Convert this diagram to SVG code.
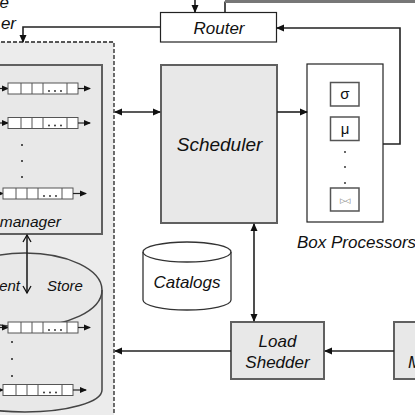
<svg xmlns="http://www.w3.org/2000/svg" width="415" height="415" viewBox="0 0 415 415">
<defs>
<style>
text{font-family:"Liberation Sans",Arial,sans-serif;font-style:italic;fill:#111}
text.sym{font-style:normal}
.box{fill:#e8e8e8;stroke:#606060;stroke-width:2}
.wbox{fill:#fff;stroke:#222;stroke-width:1.2}
.ibox{fill:#fff;stroke:#555;stroke-width:1.5}
.ln{fill:none;stroke:#222;stroke-width:1.6}
.cell{fill:#fff;stroke:#555;stroke-width:1}
.q{fill:none;stroke:#222;stroke-width:1.2}
.dot{fill:#222}
</style>
<marker id="ah" markerWidth="8" markerHeight="8" refX="7" refY="4" orient="auto-start-reverse" markerUnits="userSpaceOnUse"><path d="M0,0.5 L8,4 L0,7.5 Z" fill="#111"/></marker>
<marker id="qh" markerWidth="7" markerHeight="7" refX="6" refY="3.5" orient="auto-start-reverse" markerUnits="userSpaceOnUse"><path d="M0,0.5 L7,3.5 L0,6.5 Z" fill="#111"/></marker>
<marker id="oh" markerWidth="10" markerHeight="10" refX="8" refY="5" orient="auto-start-reverse" markerUnits="userSpaceOnUse"><path d="M1,1 L8,5 L1,9" fill="none" stroke="#111" stroke-width="1.3"/></marker>
<g id="queue">
<rect class="cell" x="0" y="0" width="70" height="11"/>
<line x1="13" y1="0" x2="13" y2="11" stroke="#555"/>
<line x1="24" y1="0" x2="24" y2="11" stroke="#555"/>
<line x1="35" y1="0" x2="35" y2="11" stroke="#555"/>
<line x1="59" y1="0" x2="59" y2="11" stroke="#555"/>
<circle class="dot" cx="41" cy="8" r="0.9"/><circle class="dot" cx="47" cy="8" r="0.9"/><circle class="dot" cx="53" cy="8" r="0.9"/>
</g>
</defs>

<g id="storage-manager">
<rect x="-5" y="42" width="119" height="380" fill="#ececec" stroke="#222" stroke-width="1.3" stroke-dasharray="4,2"/>
<text x="16" y="29" font-size="17" text-anchor="end">er</text>
<text x="9" y="8" font-size="17" text-anchor="end">e</text>
</g>

<g id="queue-manager">
<rect class="box" x="-5" y="65" width="107" height="169" fill="#e6e6e6"/>
<g class="queues">
<path class="q" d="M0,88.5 H8" marker-end="url(#qh)"/>
<use href="#queue" x="8" y="83"/>
<path class="q" d="M78,88.5 H90" marker-end="url(#qh)"/>
<path class="q" d="M0,123 H8" marker-end="url(#qh)"/>
<use href="#queue" x="8" y="117.5"/>
<path class="q" d="M78,123 H90" marker-end="url(#qh)"/>
<circle class="dot" cx="22" cy="145" r="1"/><circle class="dot" cx="22" cy="161" r="1"/><circle class="dot" cx="22" cy="177" r="1"/>
<path class="q" d="M-5,193.5 H3" marker-end="url(#qh)"/>
<use href="#queue" x="3" y="188"/>
<path class="q" d="M73,193.5 H86" marker-end="url(#qh)"/>
</g>
<text x="61" y="227" font-size="15.5" text-anchor="end">manager</text>
</g>

<g id="store">
<path d="M-52,290 A77,37 0 0 1 102,290 V390 A77,22 0 0 1 -52,390 Z" fill="#e8e8e8" stroke="#444" stroke-width="1.5"/>
<path d="M-52,290 A77,37 0 0 0 102,290" fill="none" stroke="#444" stroke-width="1.5"/>
<text x="20" y="291" font-size="15" text-anchor="end">ent</text>
<text x="47" y="291" font-size="15">Store</text>
<path class="q" d="M0,327.5 H8" marker-end="url(#qh)"/>
<use href="#queue" x="8" y="322"/>
<path class="q" d="M78,327.5 H90" marker-end="url(#qh)"/>
<circle class="dot" cx="12" cy="342" r="1"/><circle class="dot" cx="12" cy="359" r="1"/><circle class="dot" cx="12" cy="376" r="1"/>
<path class="q" d="M-5,390 H3" marker-end="url(#qh)"/>
<use href="#queue" x="3" y="384.5"/>
<path class="q" d="M73,390 H86" marker-end="url(#qh)"/>
</g>

<g id="router">
<rect class="wbox" x="160.5" y="12.5" width="116" height="29.5" stroke-width="1.5"/>
<text x="219" y="34" font-size="17" text-anchor="middle">Router</text>
</g>

<g id="scheduler">
<rect class="box" x="161" y="65" width="116" height="158"/>
<text x="219.5" y="151" font-size="19" text-anchor="middle">Scheduler</text>
</g>

<g id="box-processors">
<rect class="wbox" x="307" y="64" width="76" height="158"/>
<rect class="ibox" x="330.5" y="82.5" width="28.5" height="23.5"/>
<text class="sym" x="345" y="99" font-size="15" text-anchor="middle">σ</text>
<rect class="ibox" x="330.5" y="117" width="28.5" height="23.5"/>
<text class="sym" x="345" y="134" font-size="15" text-anchor="middle">μ</text>
<circle class="dot" cx="345" cy="152" r="0.9"/><circle class="dot" cx="345" cy="167" r="0.9"/><circle class="dot" cx="345" cy="183" r="0.9"/>
<rect class="ibox" x="330.5" y="188" width="28.5" height="23"/>
<text class="sym" x="345" y="202.5" font-size="7" text-anchor="middle" style="fill:#555">▷◁</text>
<text x="297" y="248" font-size="17">Box Processors</text>
</g>

<g id="catalogs">
<path d="M143,252 A44,10 0 0 1 231,252 V300 A44,10 0 0 1 143,300 Z" fill="#fff" stroke="#333" stroke-width="1.3"/>
<path d="M143,252 A44,10 0 0 0 231,252" fill="none" stroke="#333" stroke-width="1.3"/>
<text x="187" y="288" font-size="17" text-anchor="middle">Catalogs</text>
</g>

<g id="load-shedder">
<rect class="box" x="231" y="322" width="93" height="57"/>
<text x="277.5" y="347" font-size="17" text-anchor="middle">Load</text>
<text x="277.5" y="368" font-size="17" text-anchor="middle">Shedder</text>
</g>

<g id="monitor">
<rect class="box" x="394" y="322" width="30" height="57"/>
<text x="408" y="368" font-size="17">M</text>
</g>

<g id="connectors">
<path class="ln" d="M160,27 H23 V42" marker-end="url(#ah)"/>
<path class="ln" d="M195,0 V12" marker-end="url(#ah)"/>
<path class="ln" d="M225,12 V1.5"/>
<path d="M225,1.5 H415" fill="none" stroke="#777" stroke-width="3"/>
<path class="ln" d="M383,144 H400 V28 H277" marker-end="url(#ah)"/>
<path class="ln" d="M115,112 H160" marker-start="url(#ah)" marker-end="url(#ah)"/>
<path class="ln" d="M277,112 H307" marker-end="url(#ah)"/>
<path class="ln" d="M254,224 V321" marker-start="url(#ah)" marker-end="url(#ah)"/>
<path class="ln" d="M231,351 H115" marker-end="url(#ah)"/>
<path class="ln" d="M394,351 H325" marker-end="url(#ah)"/>
<path class="ln" d="M27,235 V293" stroke-width="1.3" marker-start="url(#oh)" marker-end="url(#oh)"/>
</g>
</svg>
